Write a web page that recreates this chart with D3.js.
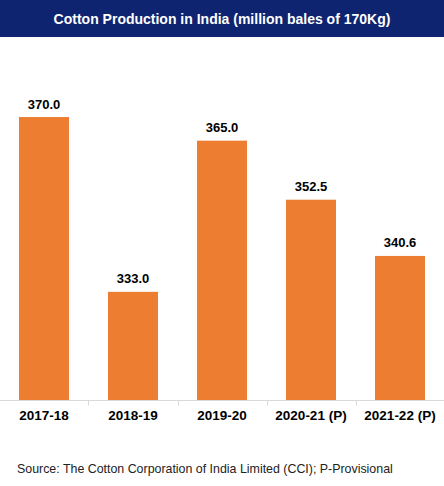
<!DOCTYPE html>
<html>
<head>
<meta charset="utf-8">
<script src="https://cdn.jsdelivr.net/npm/d3@7"></script>
<style>
  body { margin: 0; background: #fff; }
  svg { display: block; font-family: "Liberation Sans", Arial, sans-serif; }
</style>
</head>
<body>
<div id="chart"></div>
<script>
var seasons = ["2017-18", "2018-19", "2019-20", "2020-21 (P)", "2021-22 (P)"];
var production = [370.0, 333.0, 365.0, 352.5, 340.6];
var yDomain = [310, 380];

var width = 444,
    height = 486;

var svg = d3.select("#chart").append("svg")
    .attr("width", width)
    .attr("height", height);

// header band
svg.append("rect")
    .attr("x", 0).attr("y", 0)
    .attr("width", width).attr("height", 37)
    .attr("fill", "#0e2470");

svg.append("text")
    .attr("x", width / 2)
    .attr("y", 24)
    .attr("text-anchor", "middle")
    .attr("fill", "#fff")
    .style("font-size", "14px")
    .style("font-weight", "bold")
    .text("Cotton Production in India (million bales of 170Kg)");

var x = d3.scaleBand()
    .domain(seasons)
    .range([-0.5, 444.5])
    .paddingInner(0.438)
    .paddingOuter(0.219);

var y = d3.scaleLinear()
    .domain(yDomain)
    .range([400.5, 69.8]);

svg.append("g")
    .selectAll("rect")
    .data(production)
  .enter().append("rect")
    .attr("x", function(d, i) { return x(seasons[i]); })
    .attr("y", function(d) { return y(d); })
    .attr("width", x.bandwidth())
    .attr("height", function(d) { return y(yDomain[0]) - y(d); })
    .attr("fill", "#ed7d31");

svg.append("g")
    .selectAll("text")
    .data(production)
  .enter().append("text")
    .attr("x", function(d, i) { return x(seasons[i]) + x.bandwidth() / 2; })
    .attr("y", function(d) { return y(d) - 8.5; })
    .attr("text-anchor", "middle")
    .attr("fill", "#000")
    .style("font-size", "13px")
    .style("font-weight", "bold")
    .text(function(d) { return d.toFixed(1); });

// x axis: line, ticks between categories, labels
var xAxis = svg.append("g")
    .attr("transform", "translate(0," + y(yDomain[0]) + ")");

xAxis.append("line")
    .attr("x1", 0).attr("x2", width)
    .attr("stroke", "#d9d9d9");

xAxis.selectAll(".tick")
    .data(seasons.slice(1))
  .enter().append("line")
    .attr("class", "tick")
    .attr("x1", function(d) { return Math.round(x(d) - x.step() * x.paddingInner() / 2) + 0.5; })
    .attr("x2", function(d) { return Math.round(x(d) - x.step() * x.paddingInner() / 2) + 0.5; })
    .attr("y1", 0).attr("y2", 5)
    .attr("stroke", "#d9d9d9");

xAxis.selectAll(".label")
    .data(seasons)
  .enter().append("text")
    .attr("class", "label")
    .attr("x", function(d) { return x(d) + x.bandwidth() / 2; })
    .attr("y", 19.5)
    .attr("text-anchor", "middle")
    .attr("fill", "#000")
    .style("font-size", "13.5px")
    .style("font-weight", "bold")
    .text(function(d) { return d; });

svg.append("text")
    .attr("x", 17)
    .attr("y", 473)
    .attr("fill", "#222")
    .style("font-size", "12.4px")
    .text("Source: The Cotton Corporation of India Limited (CCI); P-Provisional");
</script>
</body>
</html>
